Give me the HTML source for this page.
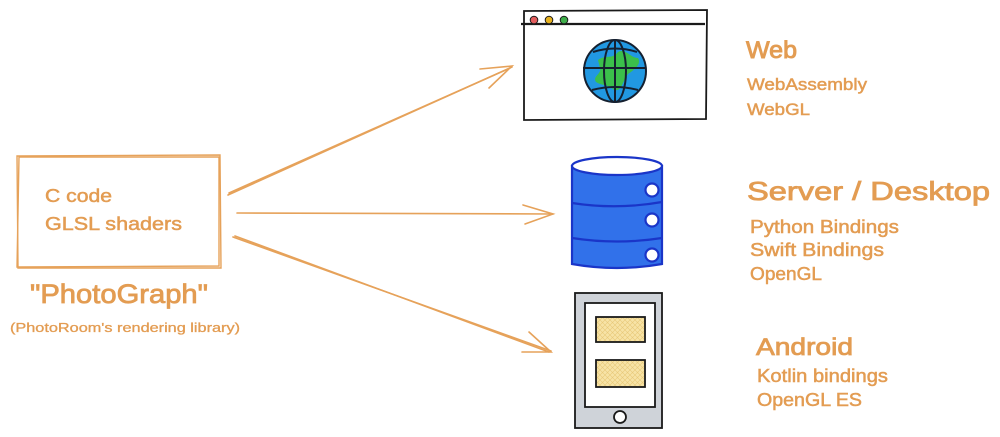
<!DOCTYPE html>
<html><head><meta charset="utf-8"><style>
html,body{margin:0;padding:0;background:#fff;}
svg{display:block;}
text{font-family:"Liberation Sans",sans-serif;fill:#e39c52;stroke:#e39c52;stroke-width:0.5;}
</style></head><body>
<svg width="1000" height="437" viewBox="0 0 1000 437" xmlns="http://www.w3.org/2000/svg">
<rect width="1000" height="437" fill="#fff"/>
<!-- Source box -->
<g fill="none" stroke="#e6a25a" stroke-width="1.4" stroke-linecap="round">
<path d="M17 156 L220 155 L221 268 L18 268 Z"/>
<path d="M19 157 L219 157 L219 266 L17 267 Z"/>
</g>
<text x="45" y="202" font-size="18" textLength="67" lengthAdjust="spacingAndGlyphs">C code</text>
<text x="45" y="230" font-size="18" textLength="137" lengthAdjust="spacingAndGlyphs">GLSL shaders</text>
<text x="30" y="303" font-size="27" textLength="178" lengthAdjust="spacingAndGlyphs" style="stroke-width:0.8">"PhotoGraph"</text>
<text x="10" y="332" font-size="13" textLength="230" lengthAdjust="spacingAndGlyphs" style="stroke-width:0.3">(PhotoRoom's rendering library)</text>

<!-- Arrows -->
<g fill="none" stroke="#e6a25a" stroke-width="1.6" stroke-linecap="round">
<path d="M228 195 L512 67"/>
<path d="M229 193 L510 68"/>
<path d="M480 69 L512 66 L489 88"/>
<path d="M237 213 L553 214"/>
<path d="M523 205 L553 214 L525 224"/>
<path d="M233 237 L551 351"/>
<path d="M235 236 L549 352"/>
<path d="M529 332 L551 352 L522 352"/>
</g>

<!-- Browser -->
<g fill="none" stroke="#1a1a1a" stroke-width="1.8">
<path d="M524 11 L707 10 L706 119 L524 120 Z" fill="#fff"/>
<path d="M521 24 L705 24" stroke-width="2.2"/>
</g>
<circle cx="534" cy="20" r="3.8" fill="#e35d5d" stroke="#1a1a1a" stroke-width="1"/>
<circle cx="549" cy="20" r="3.8" fill="#e8b21e" stroke="#1a1a1a" stroke-width="1"/>
<circle cx="564" cy="20" r="3.8" fill="#3fae4a" stroke="#1a1a1a" stroke-width="1"/>
<!-- Globe -->
<circle cx="615" cy="71" r="31" fill="#2198e2" stroke="#152030" stroke-width="2"/>
<path d="M598 60 C606 54 612 60 618 52 C626 48 630 58 638 58 C642 64 634 70 628 74 C622 82 622 92 614 90 C608 84 602 86 596 82 C592 76 602 74 600 68 Z" fill="#3bbf4b"/>
<g fill="none" stroke="#152030" stroke-width="2">
<ellipse cx="615" cy="71" rx="11" ry="31"/>
<path d="M615 40 L615 102"/>
<path d="M583 68 L646 68"/>
<path d="M593 52 Q615 45 637 52"/>
<path d="M592 90 Q615 84 638 90"/>
</g>

<!-- Database -->
<g stroke="#1a35c8" stroke-width="2.2">
<path d="M572 166 L572 264 Q617 272 662 264 L662 166 Z" fill="#3171ea"/>
<ellipse cx="617" cy="166" rx="45" ry="9" fill="#fff"/>
<path d="M572 203 Q617 210 662 202" fill="none"/>
<path d="M572 238 Q617 245 662 238" fill="none"/>
<circle cx="652" cy="190" r="6.5" fill="#fff"/>
<circle cx="652" cy="220" r="6.5" fill="#fff"/>
<circle cx="652" cy="255" r="6.5" fill="#fff"/>
</g>

<!-- Phone -->
<defs>
<pattern id="hatch" width="5" height="5" patternUnits="userSpaceOnUse">
<rect width="5" height="5" fill="#f7e3a6"/>
<path d="M0 0 L5 5 M5 0 L0 5" stroke="#e8c878" stroke-width="0.6"/>
</pattern>
</defs>
<g stroke="#1a1a1a" stroke-width="1.8">
<rect x="575" y="293" width="87" height="135" fill="#cfd3d9"/>
<rect x="585" y="303" width="70" height="104" fill="#fff"/>
<rect x="596" y="317" width="49" height="25" fill="url(#hatch)"/>
<rect x="596" y="360" width="49" height="27" fill="url(#hatch)"/>
<circle cx="620" cy="417" r="6" fill="#fff"/>
</g>

<!-- Right text -->
<text x="746" y="58" font-size="24" textLength="51" lengthAdjust="spacingAndGlyphs" style="stroke-width:0.9">Web</text>
<text x="747" y="90" font-size="17" textLength="120" lengthAdjust="spacingAndGlyphs">WebAssembly</text>
<text x="747" y="115" font-size="17" textLength="63" lengthAdjust="spacingAndGlyphs">WebGL</text>
<text x="747" y="200" font-size="26" textLength="243" lengthAdjust="spacingAndGlyphs" style="stroke-width:0.8">Server / Desktop</text>
<text x="750" y="233" font-size="18" textLength="149" lengthAdjust="spacingAndGlyphs">Python Bindings</text>
<text x="750" y="256" font-size="18" textLength="134" lengthAdjust="spacingAndGlyphs">Swift Bindings</text>
<text x="750" y="280" font-size="18" textLength="72" lengthAdjust="spacingAndGlyphs">OpenGL</text>
<text x="756" y="355" font-size="24" textLength="97" lengthAdjust="spacingAndGlyphs" style="stroke-width:0.8">Android</text>
<text x="757" y="382" font-size="18" textLength="131" lengthAdjust="spacingAndGlyphs">Kotlin bindings</text>
<text x="757" y="406" font-size="18" textLength="105" lengthAdjust="spacingAndGlyphs">OpenGL ES</text>
</svg>
</body></html>
